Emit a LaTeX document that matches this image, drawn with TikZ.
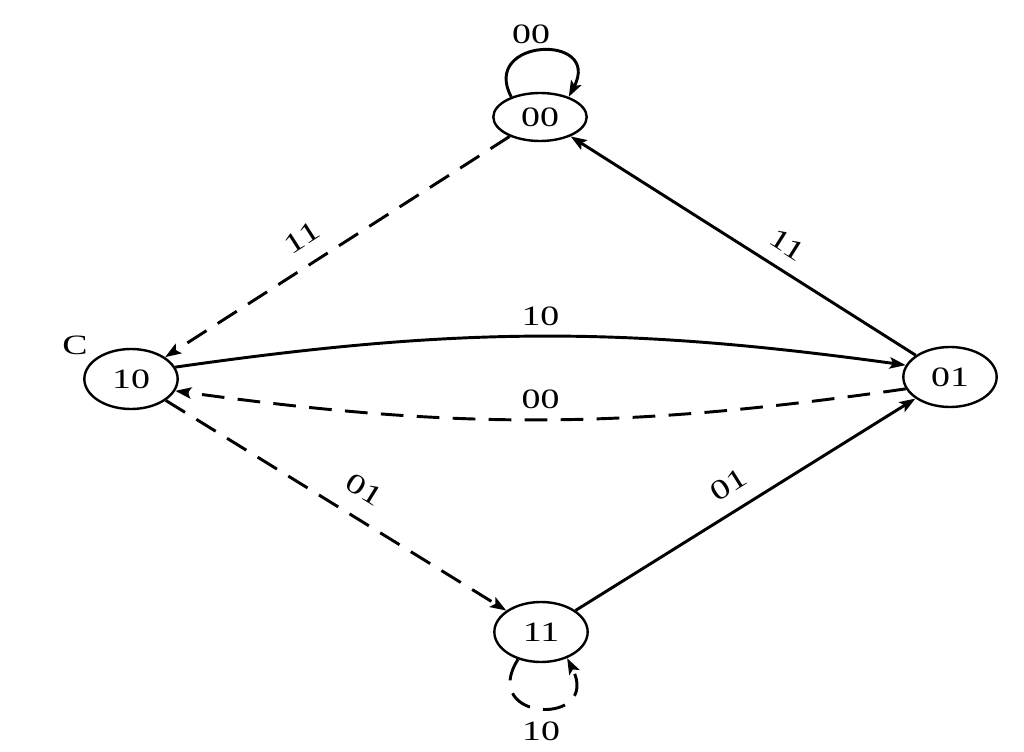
\documentclass[tikz,border=0pt]{standalone}
\usepackage{fontspec}
\setmainfont{Liberation Serif}
\newfontfamily\widefont[FakeStretch=1.35]{Liberation Serif}
\usetikzlibrary{arrows.meta,shapes.geometric}
\begin{document}
\begin{tikzpicture}[x=0.75pt,y=0.75pt,
  every node/.style={font=\widefont\fontsize{21}{23}\selectfont},
  state/.style={draw, ellipse, line width=1.8pt, minimum width=70pt, minimum height=45pt, inner sep=0pt},
  topstate/.style={state, minimum height=36pt},
  conn/.style={line width=2.2pt, -{Stealth[length=12pt,width=8.5pt,inset=2.5pt]}},
  dconn/.style={conn, dash pattern=on 17pt off 10pt},
  lab/.style={inner sep=0pt}
]
\useasboundingbox (0,0) rectangle (1024,-752);

\node[topstate] (n00) at (540,-117) {00};
\node[state] (n10) at (131,-379) {10};
\node[state] (n01) at (950,-377) {01};
\node[state] (n11) at (541,-632) {11};

\node[lab] (lc) at (75,-345) {C};
\node[lab] (l00top) at (531,-34) {00};
\node[lab] (l10bot) at (541,-731) {10};

% self loops
\draw[conn] (n00.145) .. controls (480,-38) and (602,-33) .. (n00.35);
\draw[dconn] (n11.-130) .. controls (478,-722) and (602,-727) .. (n11.-45);

% straight edges
\draw[dconn] (n00) -- node[lab, sloped, above=12pt, pos=0.56] (e1) {11} (n10);
\draw[conn] (n01) -- node[lab, sloped, above=10.5pt, pos=0.41] (e2) {11} (n00);
\draw[dconn] (n10) -- node[lab, sloped, above=13.5pt, pos=0.54] (e3) {01} (n11);
\draw[conn] (n11) -- node[lab, sloped, above=11.5pt, pos=0.49] (e4) {01} (n01);

% curved edges
\draw[conn] (n10.15) to[bend left=8] node[lab, above=7pt, pos=0.5] (e5) {10} (n01.165);
\draw[dconn] (n01.195) to[bend left=8] node[lab, above=7pt, pos=0.5] (e6) {00} (n10.-15);
\end{tikzpicture}
\end{document}
